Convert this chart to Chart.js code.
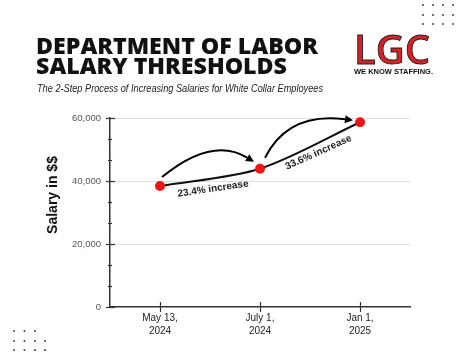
<!DOCTYPE html>
<html><head><meta charset="utf-8">
<script src="https://cdn.jsdelivr.net/npm/chart.js@4"></script>
<style>html,body{margin:0;padding:0;background:#fff;}canvas{display:block;}</style>
</head><body>
<canvas id="c" width="474" height="355"></canvas>
<script>
// ---- data ----
const categories = [["May 13,", "2024"], ["July 1,", "2024"], ["Jan 1,", "2025"]];
const salaries = [38400, 43900, 58650];
const increaseLabels = ["23.4% increase", "33.6% increase"];
const yMin = 0;
const yMax = 60000;
const yMajorStep = 20000;
const titleLines = ["DEPARTMENT OF LABOR", "SALARY THRESHOLDS"];
const subtitleText = "The 2-Step Process of Increasing Salaries for White Collar Employees";
const yAxisTitle = "Salary in $$";
const logoText = "LGC";
const taglineText = "WE KNOW STAFFING.";

const SANS = '"Liberation Sans", Arial, sans-serif';

function fitText(ctx, text, x, y, width, font) {
  ctx.font = font;
  const w = ctx.measureText(text).width;
  ctx.save();
  ctx.translate(x, y);
  ctx.scale(width / w, 1);
  ctx.fillText(text, 0, 0);
  ctx.restore();
}

function dotGrid(ctx, xs, ys, skip) {
  ctx.fillStyle = '#444';
  ys.forEach((y, r) => xs.forEach((x, c) => {
    if (skip && skip(r, c)) return;
    ctx.beginPath(); ctx.arc(x, y, 1, 0, Math.PI * 2); ctx.fill();
  }));
}

function arrow(ctx, a, c, b) {
  ctx.save();
  ctx.strokeStyle = '#000'; ctx.fillStyle = '#000'; ctx.lineWidth = 2;
  const ang = Math.atan2(b.y - c.y, b.x - c.x);
  const L = 8, W = 4;
  const base = {x: b.x - L * Math.cos(ang), y: b.y - L * Math.sin(ang)};
  ctx.beginPath(); ctx.moveTo(a.x, a.y); ctx.quadraticCurveTo(c.x, c.y, base.x, base.y); ctx.stroke();
  ctx.beginPath();
  ctx.moveTo(b.x, b.y);
  ctx.lineTo(base.x + W * Math.sin(ang), base.y - W * Math.cos(ang));
  ctx.lineTo(base.x - W * Math.sin(ang), base.y + W * Math.cos(ang));
  ctx.closePath(); ctx.fill();
  ctx.restore();
}

const decor = {
  id: 'decor',
  afterDraw(chart) {
    const ctx = chart.ctx;
    const xs = chart.scales.x, ys = chart.scales.y;
    const area = chart.chartArea;
    ctx.save();
    // header
    ctx.fillStyle = '#111';
    ctx.textBaseline = 'alphabetic'; ctx.textAlign = 'left';
    fitText(ctx, titleLines[0], 36, 54, 282, '800 23px "Open Sans"');
    fitText(ctx, titleLines[1], 36, 74, 251, '800 23px "Open Sans"');
    ctx.fillStyle = '#222';
    fitText(ctx, subtitleText, 37, 92, 286, 'italic 10px ' + SANS);
    // logo
    ctx.font = '600 39px "Open Sans"';
    let w = ctx.measureText(logoText).width;
    ctx.save(); ctx.translate(354, 64); ctx.scale(76 / w, 1);
    ctx.fillStyle = '#d71f26'; ctx.fillText(logoText, 0, 0);
    ctx.lineWidth = 0.9; ctx.strokeStyle = '#222'; ctx.strokeText(logoText, 0, 0);
    ctx.restore();
    ctx.fillStyle = '#111';
    fitText(ctx, taglineText, 354, 74, 79, 'bold 7px ' + SANS);
    // decorative dots
    dotGrid(ctx, [423, 433, 443, 453], [5, 15, 24]);
    dotGrid(ctx, [14, 24.5, 35, 45], [331, 341, 350], (r, c) => r === 0 && c === 3);
    // y axis title
    ctx.save();
    ctx.translate(57, 195); ctx.rotate(-Math.PI / 2);
    ctx.font = 'bold 14px ' + SANS; ctx.fillStyle = '#111'; ctx.textAlign = 'center';
    ctx.fillText(yAxisTitle, 0, 0);
    ctx.restore();
    // tick marks
    ctx.strokeStyle = '#333'; ctx.lineWidth = 1.2;
    const minor = yMajorStep / 3;
    for (let i = 0; yMin + i * minor <= yMax + 1; i++) {
      const py = Math.round(ys.getPixelForValue(yMin + i * minor)) + 0.5;
      const major = i % 3 === 0;
      ctx.beginPath();
      ctx.moveTo(area.left - (major ? 4 : 2), py);
      ctx.lineTo(area.left + (major ? 5 : 2), py);
      ctx.stroke();
    }
    categories.forEach((_, i) => {
      const px = Math.round(xs.getPixelForValue(i)) + 0.5;
      ctx.beginPath(); ctx.moveTo(px, area.bottom - 5); ctx.lineTo(px, area.bottom + 5); ctx.stroke();
    });
    // arrows and increase labels
    const pts = salaries.map((v, i) => ({x: xs.getPixelForValue(i), y: ys.getPixelForValue(v)}));
    const p1 = pts[0], p2 = pts[1], p3 = pts[2];
    const a1 = {x: p1.x + 2, y: p1.y - 9}, b1 = {x: p2.x - 6, y: p2.y - 7};
    arrow(ctx, a1, {x: a1.x + 50, y: a1.y - 41}, b1);
    const a2 = {x: p2.x + 5, y: p2.y - 11}, b2 = {x: p3.x - 7, y: p3.y - 2};
    arrow(ctx, a2, {x: a2.x + 23, y: a2.y - 46}, b2);
    const offs = [{a: 1, d: 11.8}, {a: 4.8, d: 9.9}];
    increaseLabels.forEach((t, i) => {
      const A = pts[i], B = pts[i + 1];
      const ang = Math.atan2(B.y - A.y, B.x - A.x);
      const mx = (A.x + B.x) / 2, my = (A.y + B.y) / 2;
      const o = offs[i];
      const cx = mx + o.a * Math.cos(ang) - o.d * Math.sin(ang);
      const cy = my + o.a * Math.sin(ang) + o.d * Math.cos(ang);
      ctx.save();
      ctx.translate(cx, cy); ctx.rotate(ang * (i === 0 ? 0.85 : 0.97));
      ctx.font = 'bold 10px ' + SANS; ctx.fillStyle = '#222';
      ctx.textAlign = 'center'; ctx.textBaseline = 'middle';
      ctx.fillText(t, 0, 0);
      ctx.restore();
    });
    ctx.restore();
  }
};

new Chart(document.getElementById('c').getContext('2d'), {
  type: 'line',
  data: {
    labels: categories,
    datasets: [{
      data: salaries,
      borderColor: '#111', borderWidth: 2, tension: 0.3,
      pointRadius: 5, pointHoverRadius: 5,
      pointBackgroundColor: '#f01414', pointBorderColor: '#f01414', pointBorderWidth: 0,
      clip: false
    }]
  },
  options: {
    responsive: false, animation: false, devicePixelRatio: 1,
    layout: {padding: {top: 118, right: 64, bottom: 0, left: 0}},
    plugins: {legend: {display: false}, tooltip: {enabled: false}, title: {display: false}},
    scales: {
      x: {
        offset: true,
        grid: {display: false, drawTicks: false},
        border: {display: true, color: '#333', width: 1.5},
        ticks: {padding: 5, color: '#222', maxRotation: 0, font: {family: SANS, size: 10, lineHeight: 1.3}},
        afterFit(s) { s.height = 48; }
      },
      y: {
        min: yMin, max: yMax,
        ticks: {stepSize: yMajorStep, padding: 9, color: '#555', font: {family: SANS, size: 9.5},
          callback: v => v.toLocaleString('en-US')},
        grid: {drawTicks: false, lineWidth: 1,
          color: c => (c.tick && c.tick.value === 0) ? 'rgba(0,0,0,0)' : '#dedede'},
        border: {color: '#333', width: 1.5},
        afterFit(s) { s.width = 110; }
      }
    }
  },
  plugins: [decor]
});
</script>
</body></html>
